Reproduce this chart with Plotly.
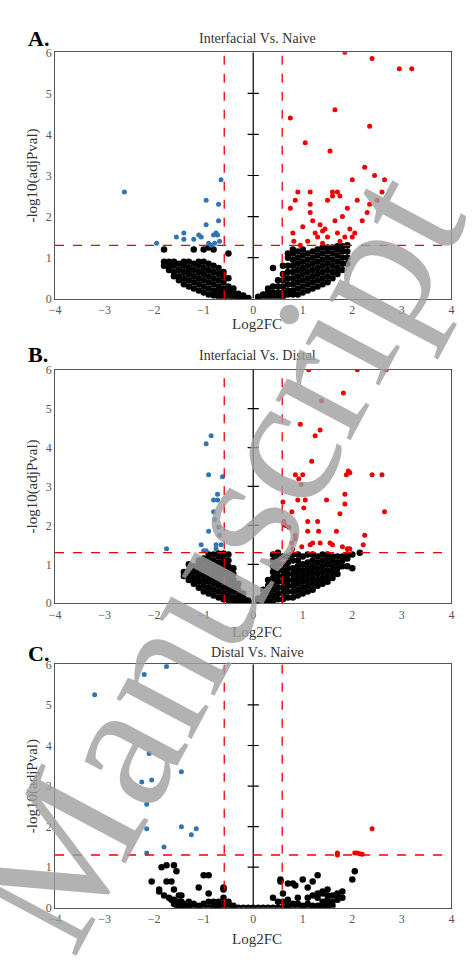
import plotly.graph_objects as go

# ---- data ----
# black clouds stored as (x, [y values]) columns
a_black = [(-1.8, [0.8, 0.9, 1.2]), (-1.7, [0.7, 0.8, 0.9]), (-1.6, [0.55, 0.65, 0.8, 0.9]),
           (-1.5, [0.45, 0.55, 0.7, 0.85]), (-1.4, [0.35, 0.5, 0.65, 0.8, 0.9]),
           (-1.3, [0.3, 0.45, 0.6, 0.75, 0.9]), (-1.2, [0.25, 0.4, 0.55, 0.7, 0.85, 1.2]),
           (-1.1, [0.2, 0.35, 0.5, 0.65, 0.8, 0.9]), (-1.0, [0.15, 0.3, 0.45, 0.6, 0.75, 0.9, 1.2]),
           (-0.9, [0.1, 0.25, 0.4, 0.55, 0.7, 0.85, 1.25]), (-0.8, [0.08, 0.2, 0.35, 0.5, 0.65, 0.8, 1.2]),
           (-0.7, [0.05, 0.18, 0.3, 0.45, 0.6, 0.75]), (-0.6, [0.04, 0.15, 0.25, 0.4, 0.55, 0.65]),
           (-0.5, [0.03, 0.12, 0.2, 0.3, 0.5, 1.1]), (-0.4, [0.02, 0.08, 0.15, 0.25]),
           (-0.3, [0.01, 0.06, 0.12]), (-0.2, [0.0, 0.04, 0.08]), (-0.1, [0.0, 0.02]),
           (0.1, [0.0, 0.05]), (0.2, [0.02, 0.1]), (0.3, [0.05, 0.15, 0.25]), (0.4, [0.05, 0.15, 0.3, 0.75]),
           (0.5, [0.05, 0.15, 0.3, 0.45]), (0.6, [0.05, 0.15, 0.3, 0.45, 0.6, 0.8]),
           (0.7, [0.1, 0.2, 0.35, 0.5, 0.65, 0.8, 1.0, 1.1]),
           (0.8, [0.1, 0.2, 0.35, 0.5, 0.65, 0.8, 0.95, 1.1, 1.2]),
           (0.9, [0.1, 0.25, 0.4, 0.55, 0.7, 0.85, 1.0, 1.15]),
           (1.0, [0.15, 0.3, 0.45, 0.6, 0.75, 0.9, 1.05, 1.2]),
           (1.1, [0.2, 0.35, 0.5, 0.65, 0.8, 0.95, 1.1]), (1.2, [0.25, 0.4, 0.55, 0.7, 0.85, 1.0, 1.15]),
           (1.3, [0.3, 0.45, 0.6, 0.75, 0.9, 1.05, 1.2]), (1.4, [0.35, 0.5, 0.65, 0.8, 0.95, 1.1, 1.25]),
           (1.5, [0.4, 0.55, 0.7, 0.85, 1.0, 1.15, 1.25]), (1.6, [0.5, 0.65, 0.8, 0.95, 1.1, 1.25]),
           (1.7, [0.6, 0.75, 0.9, 1.05, 1.2, 1.28]), (1.8, [0.7, 0.85, 1.0, 1.15, 1.28]),
           (1.9, [0.85, 1.0, 1.15, 1.3])]
a_blue_x = [-2.6, -1.95, -1.55, -1.4, -1.4, -1.2, -1.1, -1.05, -0.95, -0.95, -0.9, -0.85, -0.8, -0.78, -0.75, -0.72, -0.7, -0.7, -0.68, -0.65]
a_blue_y = [2.6, 1.35, 1.5, 1.6, 1.45, 1.45, 1.55, 1.5, 1.8, 2.4, 1.35, 1.3, 1.55, 1.35, 1.6, 1.55, 2.3, 1.9, 1.4, 2.9]
a_red_x = [0.75, 0.75, 0.8, 0.82, 0.85, 0.9, 0.95, 1.0, 1.05, 1.1, 1.15, 1.15, 1.15, 1.2, 1.25, 1.3, 1.35, 1.4, 1.4, 1.45,
           1.5, 1.5, 1.55, 1.6, 1.6, 1.65, 1.65, 1.7, 1.7, 1.75, 1.75, 1.8, 1.85, 1.85, 1.9, 1.95, 2.0, 2.0, 2.05, 2.1,
           2.2, 2.25, 2.3, 2.35, 2.35, 2.4, 2.45, 2.5, 2.6, 2.65, 2.95, 3.2]
a_red_y = [4.4, 2.2, 1.6, 1.4, 2.4, 2.6, 1.3, 1.75, 3.8, 1.4, 2.6, 2.3, 2.1, 1.9, 1.6, 1.5, 1.8, 1.65, 1.35, 1.7,
           2.4, 1.5, 3.6, 2.6, 2.5, 4.6, 1.9, 2.6, 1.6, 2.5, 1.4, 2.0, 6.0, 1.5, 2.2, 1.7, 2.9, 1.5, 1.6, 2.4,
           1.9, 3.2, 2.1, 4.2, 2.3, 5.85, 3.0, 2.4, 2.6, 2.9, 5.6, 5.6]

b_black = [(-1.4, [0.7, 0.8]), (-1.3, [0.6, 0.75, 0.85, 1.0]), (-1.2, [0.5, 0.65, 0.8, 0.95]),
           (-1.1, [0.4, 0.55, 0.7, 0.85, 1.0, 1.1]), (-1.0, [0.3, 0.45, 0.6, 0.75, 0.9, 1.05, 1.15]),
           (-0.9, [0.25, 0.4, 0.55, 0.7, 0.85, 1.0, 1.15, 1.25]),
           (-0.8, [0.2, 0.35, 0.5, 0.65, 0.8, 0.95, 1.1, 1.25]),
           (-0.7, [0.15, 0.3, 0.45, 0.6, 0.75, 0.9, 1.05, 1.2, 1.28]),
           (-0.6, [0.1, 0.25, 0.4, 0.55, 0.7, 0.85, 1.0, 1.15, 1.28]),
           (-0.5, [0.08, 0.2, 0.35, 0.5, 0.65, 0.8, 0.95, 1.1, 1.25]),
           (-0.4, [0.05, 0.15, 0.3, 0.45, 0.6, 0.75, 0.9]), (-0.3, [0.03, 0.1, 0.2, 0.35, 0.5]),
           (-0.2, [0.02, 0.06, 0.15, 0.25]), (-0.1, [0.0, 0.03, 0.08]),
           (0.1, [0.0, 0.05, 0.12]), (0.2, [0.02, 0.1, 0.2, 0.35]), (0.3, [0.05, 0.15, 0.3, 0.45, 0.6]),
           (0.4, [0.05, 0.2, 0.35, 0.5, 0.65, 0.8, 0.95, 1.1, 1.25]),
           (0.5, [0.1, 0.25, 0.4, 0.55, 0.7, 0.85, 1.0, 1.15, 1.3]),
           (0.6, [0.1, 0.25, 0.4, 0.55, 0.7, 0.85, 1.0, 1.2]),
           (0.7, [0.15, 0.3, 0.45, 0.6, 0.75, 0.9, 1.05, 1.2]),
           (0.8, [0.15, 0.3, 0.45, 0.6, 0.75, 0.9, 1.1, 1.25]),
           (0.9, [0.2, 0.35, 0.5, 0.65, 0.8, 0.95, 1.1, 1.25]),
           (1.0, [0.25, 0.4, 0.55, 0.7, 0.85, 1.0, 1.2]), (1.1, [0.3, 0.45, 0.6, 0.75, 0.9, 1.05, 1.25]),
           (1.2, [0.35, 0.5, 0.65, 0.8, 0.95, 1.1, 1.25]), (1.3, [0.45, 0.6, 0.75, 0.9, 1.05, 1.2]),
           (1.4, [0.5, 0.65, 0.8, 0.95, 1.1, 1.25]), (1.5, [0.55, 0.7, 0.85, 1.0, 1.15, 1.25]),
           (1.6, [0.65, 0.8, 0.95, 1.1, 1.2]), (1.7, [0.75, 0.9, 1.05, 1.2]), (1.8, [0.95, 1.1, 1.2]),
           (1.9, [0.95, 1.15, 1.25]), (2.0, [0.9, 1.25]), (2.15, [1.3])]
b_blue_x = [-1.75, -1.05, -1.0, -0.95, -0.95, -0.9, -0.9, -0.85, -0.8, -0.8, -0.78, -0.75, -0.75, -0.72, -0.72, -0.7, -0.68, -0.65, -0.62]
b_blue_y = [1.4, 1.5, 1.35, 1.35, 4.1, 3.3, 1.85, 4.3, 2.65, 2.35, 2.15, 1.5, 1.4, 2.8, 2.65, 1.95, 1.75, 1.5, 3.25]
b_red_x = [0.6, 0.62, 0.65, 0.72, 0.78, 0.78, 0.8, 0.85, 0.85, 0.85, 0.9, 0.92, 0.95, 0.97, 0.98, 1.0, 1.02, 1.05,
           1.1, 1.1, 1.12, 1.15, 1.18, 1.2, 1.25, 1.3, 1.32, 1.35, 1.35, 1.38, 1.48, 1.55, 1.6, 1.68, 1.75, 1.8,
           1.82, 1.85, 1.85, 1.88, 1.9, 1.92, 1.95, 1.95, 2.1, 2.22, 2.25, 2.4, 2.6, 2.65, 2.68]
b_red_y = [2.6, 2.1, 2.0, 1.95, 2.35, 1.55, 1.4, 1.75, 1.65, 3.3, 2.65, 3.2, 4.6, 3.05, 1.45, 3.3, 2.45, 2.65,
           2.1, 1.85, 6.0, 1.5, 3.65, 1.55, 4.3, 2.1, 1.85, 1.55, 4.45, 5.2, 2.65, 1.55, 1.5, 1.85, 2.3, 1.45,
           5.4, 2.8, 2.55, 3.3, 1.4, 3.4, 3.35, 1.4, 6.0, 1.5, 1.75, 3.3, 3.3, 2.35, 6.0]

c_black = [(-2.05, [0.65]), (-1.9, [0.45, 0.4]), (-1.85, [1.0]), (-1.8, [0.3]), (-1.75, [0.65, 1.05]),
           (-1.7, [0.25]), (-1.65, [0.2, 0.65]), (-1.6, [0.1, 0.2, 0.45, 1.05]), (-1.55, [0.05, 0.15, 0.9]),
           (-1.5, [0.0, 0.1, 0.3]), (-1.45, [0.0, 0.05, 0.15, 0.3]), (-1.4, [0.0, 0.05, 0.1]),
           (-1.3, [0.0, 0.05, 0.15]), (-1.2, [0.0, 0.1]), (-1.1, [0.0, 0.05, 0.5]), (-1.0, [0.0, 0.1, 0.8]),
           (-0.9, [0.0, 0.15, 0.35, 0.8]), (-0.8, [0.0, 0.05, 0.15]), (-0.7, [0.0, 0.05, 0.15]),
           (-0.6, [0.0, 0.1, 0.25, 0.45, 0.5]), (-0.5, [0.0, 0.1, 0.15]), (-0.4, [0.0, 0.05]),
           (-0.3, [0.0]), (-0.2, [0.0]), (-0.1, [0.0]), (0.0, [0.0]), (0.1, [0.0]), (0.2, [0.0]), (0.3, [0.0]),
           (0.4, [0.0, 0.25]), (0.5, [0.0, 0.15]), (0.55, [0.65, 0.7]), (0.6, [0.0, 0.15, 0.35]),
           (0.7, [0.0, 0.05, 0.2, 0.6]), (0.8, [0.0, 0.1, 0.6]), (0.85, [0.55]), (0.9, [0.0, 0.1, 0.25]),
           (1.0, [0.0, 0.05, 0.7]), (1.1, [0.0, 0.1, 0.25, 0.5]), (1.2, [0.0, 0.05, 0.3, 0.65]),
           (1.3, [0.0, 0.05, 0.25, 0.35, 0.8]), (1.4, [0.0, 0.05, 0.15, 0.35, 0.4]),
           (1.5, [0.0, 0.05, 0.1, 0.2, 0.3, 0.45]), (1.6, [0.05, 0.15, 0.3]), (1.7, [0.2, 0.3, 0.35]),
           (1.8, [0.25, 0.4]), (2.0, [0.7]), (2.05, [0.9])]
c_blue_x = [-3.2, -2.25, -2.2, -2.15, -2.15, -2.15, -2.1, -2.05, -1.8, -1.75, -1.45, -1.45, -1.25, -1.15]
c_blue_y = [5.25, 3.1, 5.75, 2.55, 1.95, 1.35, 3.8, 3.15, 1.5, 5.95, 3.35, 2.0, 1.8, 1.95]
c_red_x = [1.7, 1.7, 2.05, 2.1, 2.15, 2.2, 2.4]
c_red_y = [1.35, 1.3, 1.35, 1.35, 1.33, 1.32, 1.95]

titles = ["Interfacial Vs. Naive", "Interfacial Vs. Distal", "Distal Vs. Naive"]
letters = ["A.", "B.", "C."]
fc_cut = 0.585
p_cut = 1.301

H = 968.0
W = 474.0
xdomain = [50 / W, 454 / W]
ydomains = [[1 - 296 / H, 1 - 46 / H], [1 - 605 / H, 1 - 368 / H], [1 - 914 / H, 1 - 667 / H]]
title_y = [32, 354, 655]
xlab_y = [322, 634, 946]
letter_pos = [(20, 32), (20, 353), (20, 656)]

SERIF = "Liberation Serif"
BLUE = "#2f75b5"
RED = "#ee0000"

fig = go.Figure()
panels = [(a_black, a_blue_x, a_blue_y, a_red_x, a_red_y),
          (b_black, b_blue_x, b_blue_y, b_red_x, b_red_y),
          (c_black, c_blue_x, c_blue_y, c_red_x, c_red_y)]

for i, (blk, bx, by, rx, ry) in enumerate(panels):
    n = "" if i == 0 else str(i + 1)
    xa, ya = "x" + n, "y" + n
    kx = [c[0] for c in blk for _ in c[1]]
    ky = [v for c in blk for v in c[1]]
    fig.add_trace(go.Scatter(x=kx, y=ky, mode="markers", xaxis=xa, yaxis=ya,
                             marker=dict(color="black", size=6.5)))
    fig.add_trace(go.Scatter(x=bx, y=by, mode="markers", xaxis=xa, yaxis=ya,
                             marker=dict(color=BLUE, size=5)))
    fig.add_trace(go.Scatter(x=rx, y=ry, mode="markers", xaxis=xa, yaxis=ya,
                             marker=dict(color=RED, size=5)))
    # tick marks on the zero axis
    fig.add_trace(go.Scatter(x=[0] * 5, y=[1, 2, 3, 4, 5], mode="markers", xaxis=xa, yaxis=ya,
                             marker=dict(symbol="line-ew", size=8, line=dict(color="black", width=1.2))))

    axstyle = dict(showgrid=False, zeroline=False, showline=True, linecolor="#555", linewidth=1,
                   mirror=True, ticks="", tickfont=dict(family=SERIF, size=12, color="#555"))
    fig.layout["xaxis" + n] = dict(domain=xdomain, range=[-4, 4], dtick=1, anchor=ya, **axstyle)
    fig.layout["yaxis" + n] = dict(domain=ydomains[i], range=[0, 6], dtick=1, anchor=xa,
                                   title=dict(text="-log10(adjPval)", font=dict(family=SERIF, size=15, color="#333"), standoff=4),
                                   **axstyle)
    # zero line and cut-off lines
    fig.add_shape(type="line", xref=xa, yref=ya, x0=0, x1=0, y0=0, y1=6, line=dict(color="black", width=1.2))
    for xc in (-fc_cut, fc_cut):
        fig.add_shape(type="line", xref=xa, yref=ya, x0=xc, x1=xc, y0=0, y1=6,
                      line=dict(color=RED, width=1.3, dash="dash"))
    fig.add_shape(type="line", xref=xa, yref=ya, x0=-4, x1=4, y0=p_cut, y1=p_cut,
                  line=dict(color=RED, width=1.3, dash="dash"))

    fig.add_annotation(text=titles[i], xref="paper", yref="paper", x=256 / W, y=1 - title_y[i] / H,
                       xanchor="center", yanchor="middle",
                       showarrow=False, font=dict(family=SERIF, size=14, color="#333"))
    fig.add_annotation(text="Log2FC", xref="paper", yref="paper", x=256 / W, y=1 - xlab_y[i] / H,
                       xanchor="center", yanchor="middle",
                       showarrow=False, font=dict(family=SERIF, size=15, color="#333"))
    lx, ly = letter_pos[i]
    fig.add_annotation(text="<b>" + letters[i] + "</b>", xref="paper", yref="paper", x=lx / W, y=1 - ly / H,
                       xanchor="left", yanchor="middle",
                       showarrow=False, font=dict(family=SERIF, size=22, color="black"))

# watermark
fig.add_annotation(text="Manuscript", xref="paper", yref="paper", x=215 / W, y=1 - 560 / H,
                   xanchor="center", yanchor="middle",
                   showarrow=False, textangle=-62, opacity=0.8,
                   font=dict(family=SERIF, size=185, color="#a0a0a0"))

fig.update_layout(width=474, height=968, margin=dict(l=0, r=0, t=0, b=0), showlegend=False,
                  plot_bgcolor="white", paper_bgcolor="white")
fig.write_html("out.html", config={"displayModeBar": False},
               post_script="document.body.style.margin='0';document.body.style.overflow='hidden';")
